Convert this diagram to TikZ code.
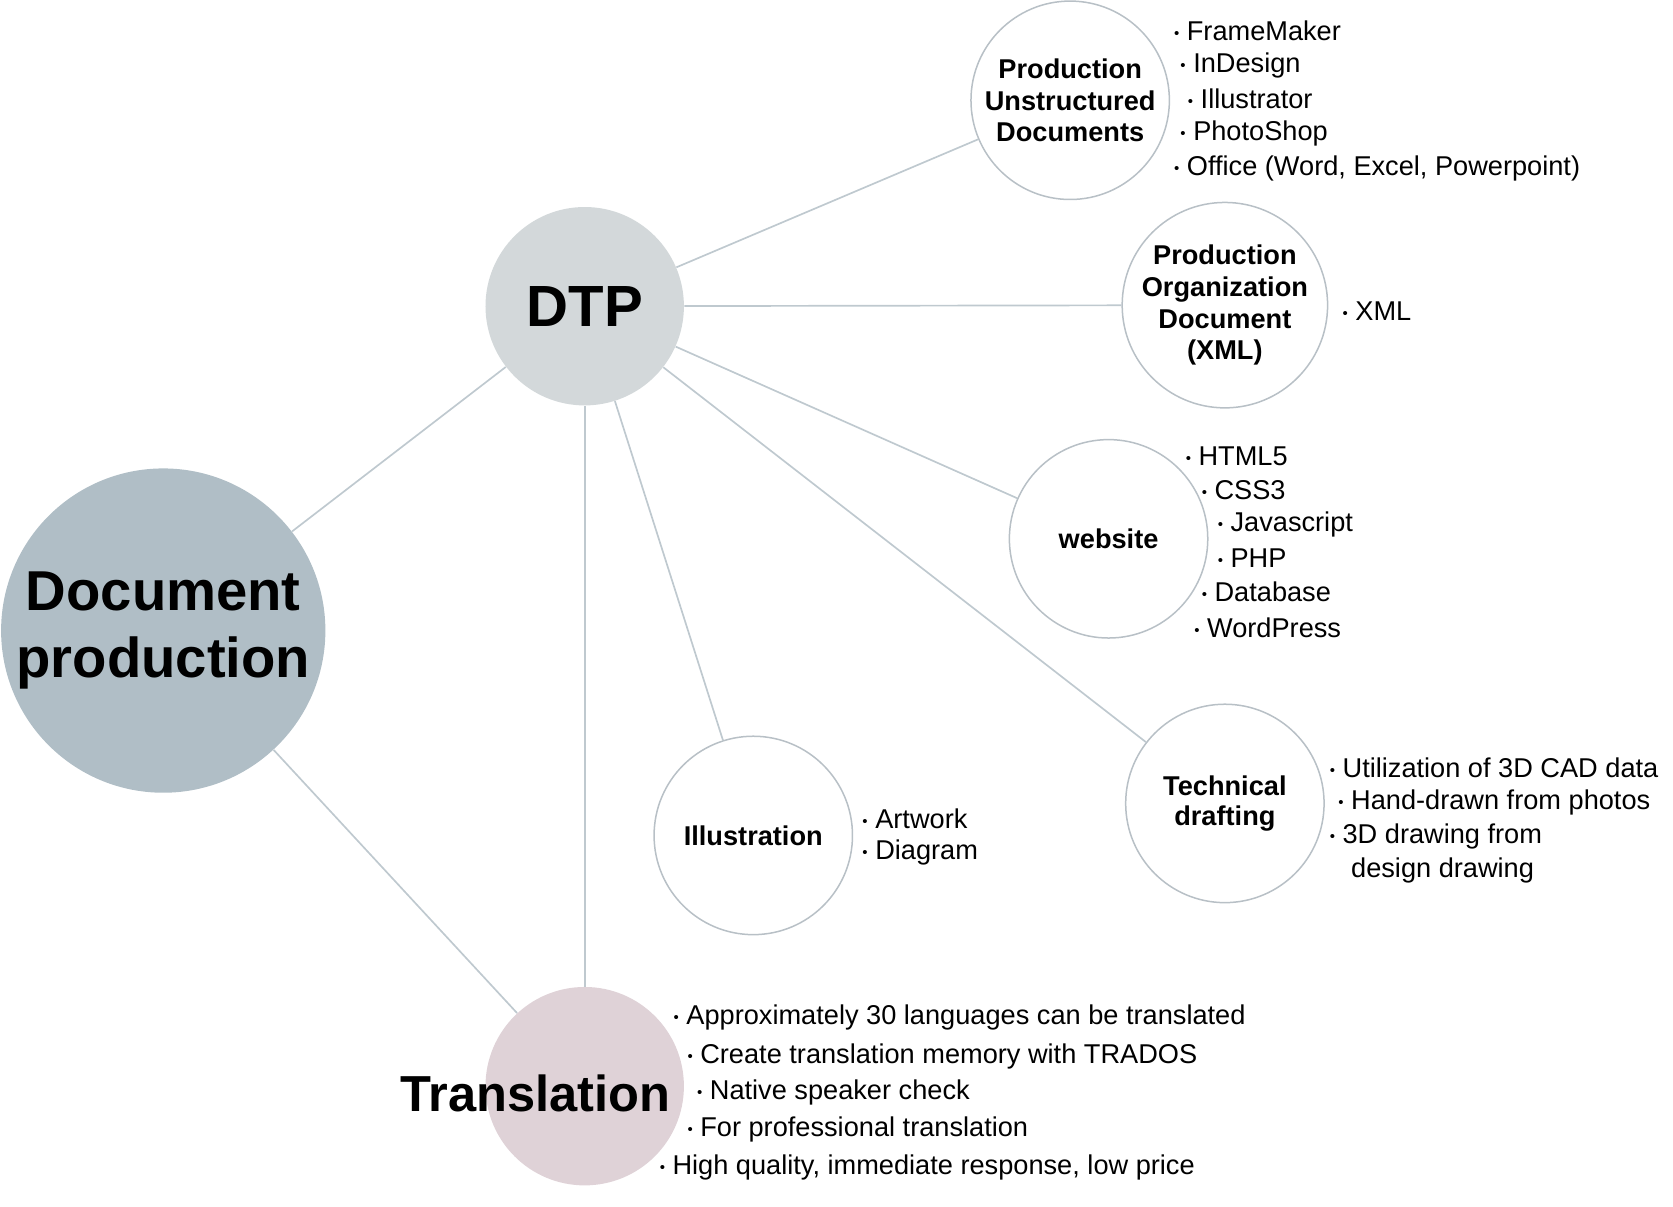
\documentclass[tikz,border=0pt]{standalone}
\usepackage{fontspec}
\setmainfont{Liberation Sans}
\begin{document}
\begin{tikzpicture}[x=0.02cm,y=-0.02cm,
  big/.style={circle,inner sep=0pt,minimum size=6.08cm,fill=main},
  mid/.style={circle,inner sep=0pt,minimum size=3.72cm},
  sub/.style={circle,inner sep=0pt,minimum size=3.72cm,draw=ring,line width=0.8pt,fill=white,font=\fontsize{14.5}{18}\selectfont\bfseries,align=center},
  edge/.style={draw=ln,line width=0.9pt},
  item/.style={anchor=west,inner sep=0pt,font=\fontsize{14.5}{18}\selectfont}]
\definecolor{main}{HTML}{B0BEC6}
\definecolor{dtpc}{HTML}{D3D8DA}
\definecolor{trc}{HTML}{DFD2D7}
\definecolor{ring}{HTML}{B8C0C6}
\definecolor{ln}{HTML}{BFC9CF}
\useasboundingbox (0,0) rectangle (1568,1131);
\newcommand\bul{{\fontsize{8}{8}\selectfont\raisebox{0.25ex}{•}}\ }
\node[big,align=center,font=\fontsize{30}{36}\selectfont\bfseries] (doc) at (153,591) {Document\\production};
\node[mid,fill=dtpc,font=\fontsize{31}{36}\selectfont\bfseries] (dtp) at (548,287) {DTP};
\node[mid,fill=trc] (tr) at (548,1018) {};
\node[font=\fontsize{27}{32}\selectfont\bfseries,inner sep=0pt] (trt) at (502,1025) {Translation};
\node[sub] (pu) at (1003,94) {Production\\[-1pt]Unstructured\\[-1pt]Documents};
\node[sub] (po) at (1148,286) {Production\\[-1pt]Organization\\[-1pt]Document\\[-1pt](XML)};
\node[sub] (web) at (1039,505) {website};
\node[sub] (tech) at (1148,753) {Technical\\[-2pt]drafting};
\node[sub] (ill) at (706,783) {Illustration};
\path[edge] (doc) -- (dtp);
\path[edge] (doc) -- (tr);
\path[edge] (dtp) -- (tr);
\path[edge] (dtp) -- (pu);
\path[edge] (dtp) -- (po);
\path[edge] (dtp) -- (web);
\path[edge] (dtp) -- (tech);
\path[edge] (dtp) -- (ill);
% lists
\node[item] (a1) at (1100,29) {\bul FrameMaker};
\node[item] (a2) at (1106,61) {\bul InDesign};
\node[item] (a3) at (1113,93) {\bul Illustrator};
\node[item] (a4) at (1106,125) {\bul PhotoShop};
\node[item] (a5) at (1100,158) {\bul Office (Word, Excel, Powerpoint)};
\node[item] (b1) at (1258,292) {\bul XML};
\node[item] (c1) at (1111,428) {\bul HTML5};
\node[item] (c2) at (1126,459) {\bul CSS3};
\node[item] (c3) at (1141,492) {\bul Javascript};
\node[item] (c4) at (1141,523) {\bul PHP};
\node[item] (c5) at (1126,555) {\bul Database};
\node[item] (c6) at (1119,588) {\bul WordPress};
\node[item] (d1) at (1246,720) {\bul Utilization of 3D CAD data};
\node[item] (d2) at (1254,752) {\bul Hand-drawn from photos};
\node[item] (d3) at (1246,784) {\bul 3D drawing from};
\node[item] (d4) at (1266,816) {design drawing};
\node[item] (e1) at (808,767) {\bul Artwork};
\node[item] (e2) at (808,799) {\bul Diagram};
\node[item] (f1) at (631,954) {\bul Approximately 30 languages can be translated};
\node[item] (f2) at (644,990) {\bul Create translation memory with TRADOS};
\node[item] (f3) at (653,1024) {\bul Native speaker check};
\node[item] (f4) at (644,1059) {\bul For professional translation};
\node[item] (f5) at (618,1094) {\bul High quality, immediate response, low price};
\end{tikzpicture}
\end{document}
